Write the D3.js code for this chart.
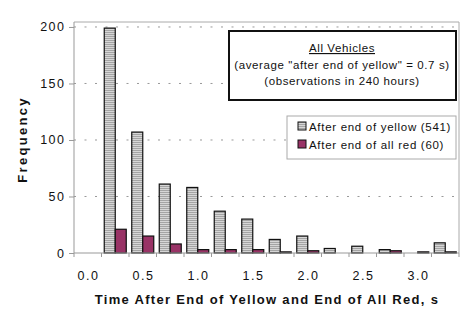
<!DOCTYPE html>
<html>
<head>
<meta charset="utf-8">
<script src="https://cdn.jsdelivr.net/npm/d3@7"></script>
<style>
  html, body { margin: 0; padding: 0; background: #fff; }
  svg { display: block; font-family: "Liberation Sans", Arial, sans-serif; }
</style>
</head>
<body>
<svg id="chart" width="474" height="323"></svg>
<script>
// ---- data ----
const categories = ["0.0", "0.25", "0.5", "0.75", "1.0", "1.25", "1.5", "1.75", "2.0", "2.25", "2.5", "2.75", "3.0", "3.25"];
const tickLabels = ["0.0", "0.5", "1.0", "1.5", "2.0", "2.5", "3.0"];
const afterYellow = [0, 199, 107, 61, 58, 37, 30, 12, 15, 4, 6, 3, 0, 9];
const afterAllRed = [0, 21, 15, 8, 3, 3, 3, 1, 2, 0, 0, 2, 1, 1];
const seriesNames = ["After end of yellow (541)", "After end of all red (60)"];
const yTicks = [0, 50, 100, 150, 200];
const boxLines = ["All Vehicles", "(average \"after end of yellow\" = 0.7 s)", "(observations in 240 hours)"];
const xTitle = "Time After End of Yellow and End of All Red, s";
const yTitle = "Frequency";

// ---- layout ----
const svg = d3.select("#chart");
const L = 74, R = 459, T = 22, B = 253;
const RED = "#993366";

const defs = svg.append("defs");
const pat = defs.append("pattern").attr("id", "stripe").attr("patternUnits", "userSpaceOnUse")
  .attr("width", 4).attr("height", 2);
pat.append("rect").attr("width", 4).attr("height", 2).attr("fill", "#d6d6d6");
pat.append("rect").attr("width", 4).attr("height", 1).attr("fill", "#a4a4a4");

const x = d3.scaleBand().domain(categories).range([L, R]).paddingInner(0.2).paddingOuter(0.1);
const xs = d3.scaleBand().domain([0, 1]).range([0, x.bandwidth()]);
const y = d3.scaleLinear().domain([0, 204.4]).range([B, T]);

// gridlines
svg.append("g").selectAll("line").data(yTicks.filter(d => d > 0)).join("line")
  .attr("x1", L).attr("x2", R).attr("y1", d => y(d)).attr("y2", d => y(d))
  .attr("stroke", "#999").attr("stroke-width", 1).attr("stroke-dasharray", "2,8.5");

// plot border (top, right)
svg.append("path").attr("d", `M${L},${T}H${R}V${B}`).attr("fill", "none").attr("stroke", "#aaa").attr("stroke-width", 1);

// bars
const groups = svg.append("g").selectAll("g").data(categories).join("g")
  .attr("transform", d => `translate(${x(d)},0)`);
groups.append("rect")
  .attr("x", xs(0)).attr("width", xs.bandwidth())
  .attr("y", (d, i) => y(afterYellow[i])).attr("height", (d, i) => y(0) - y(afterYellow[i]))
  .attr("fill", "url(#stripe)").attr("stroke", "#111").attr("stroke-width", 1.2)
  .style("display", (d, i) => afterYellow[i] > 0 ? null : "none");
groups.append("rect")
  .attr("x", xs(1)).attr("width", xs.bandwidth())
  .attr("y", (d, i) => y(afterAllRed[i])).attr("height", (d, i) => y(0) - y(afterAllRed[i]))
  .attr("fill", RED).attr("stroke", "#111").attr("stroke-width", 1.2)
  .style("display", (d, i) => afterAllRed[i] > 0 ? null : "none");

// y axis
const yAxis = svg.append("g").attr("transform", `translate(${L},0)`)
  .call(d3.axisLeft(y).tickValues(yTicks).tickSize(5).tickPadding(5).tickFormat(d3.format("d")));
yAxis.select(".domain").attr("stroke", "#999").attr("d", `M0,${T}V${B}`);
yAxis.selectAll(".tick line").attr("stroke", "#999");
yAxis.selectAll(".tick text").attr("font-size", "12.5px").attr("letter-spacing", "1.5px")
  .attr("fill", "#111").attr("font-family", "Liberation Sans, Arial, sans-serif").attr("dx", "1.5");

// x axis (category boundaries as ticks)
const step = x.step();
const bounds = d3.range(categories.length + 1).map(i => i < categories.length ? x(categories[i]) - x.paddingInner() * step / 2 : R);
const xa = svg.append("g");
xa.append("line").attr("x1", L).attr("x2", R).attr("y1", B).attr("y2", B).attr("stroke", "#999");
xa.selectAll("line.t").data(bounds).join("line").attr("class", "t")
  .attr("x1", d => d).attr("x2", d => d).attr("y1", B).attr("y2", B + 4).attr("stroke", "#999");
xa.selectAll("text").data(tickLabels).join("text")
  .attr("x", d => x(categories[categories.indexOf(d)]) + x.bandwidth() / 2 + 0.75)
  .attr("y", 280).attr("text-anchor", "middle")
  .attr("font-size", "12.5px").attr("letter-spacing", "1.5px").attr("fill", "#111")
  .text(d => d);

// axis titles
svg.append("text").attr("x", 267).attr("y", 304).attr("text-anchor", "middle")
  .attr("font-size", "13px").attr("font-weight", "bold").attr("letter-spacing", "1.3px").attr("fill", "#111")
  .text(xTitle);
svg.append("text").attr("transform", `translate(27,${(T + B) / 2 + 2}) rotate(-90)`).attr("text-anchor", "middle")
  .attr("font-size", "13px").attr("font-weight", "bold").attr("letter-spacing", "2.3px").attr("fill", "#111")
  .text(yTitle);

// annotation box
svg.append("rect").attr("x", 229).attr("y", 31).attr("width", 227).attr("height", 69)
  .attr("fill", "#fff").attr("stroke", "#111").attr("stroke-width", 2);
const bx = 342;
const by = [52, 69, 85];
boxLines.forEach((t, i) => {
  svg.append("text").attr("x", bx).attr("y", by[i]).attr("text-anchor", "middle")
    .attr("font-size", "11.5px").attr("letter-spacing", "0.6px").attr("fill", "#111")
    .attr("text-decoration", i === 0 ? "underline" : null)
    .text(t);
});

// legend
svg.append("rect").attr("x", 287).attr("y", 116).attr("width", 169).attr("height", 43)
  .attr("fill", "#fff").attr("stroke", "#aaa").attr("stroke-width", 1);
const lg = svg.append("g").selectAll("g").data(seriesNames).join("g")
  .attr("transform", (d, i) => `translate(298,${122 + i * 18})`);
lg.append("rect").attr("width", 8).attr("height", 8)
  .attr("fill", (d, i) => i === 0 ? "url(#stripe)" : RED).attr("stroke", "#111").attr("stroke-width", 1);
lg.append("text").attr("x", 11).attr("y", 8.5)
  .attr("font-size", "11.5px").attr("letter-spacing", "0.7px").attr("fill", "#111")
  .text(d => d);
</script>
</body>
</html>
